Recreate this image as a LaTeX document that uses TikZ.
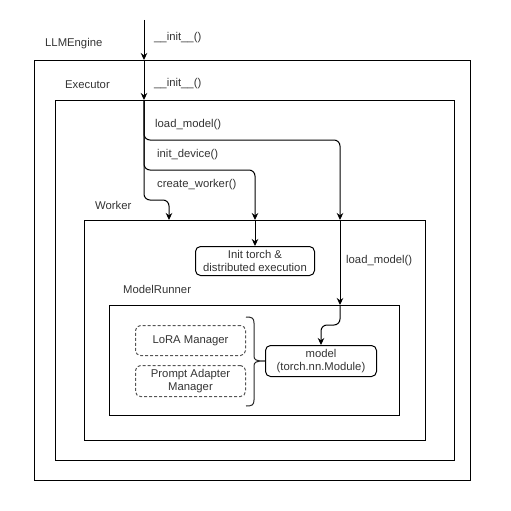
\documentclass[tikz,border=0pt]{standalone}
\usepackage{fontspec}
\setmainfont{Liberation Sans}
\usetikzlibrary{arrows.meta,calc}
\definecolor{txt}{HTML}{333333}
\definecolor{dashc}{HTML}{555555}
\tikzset{
  container/.style={draw=black, line width=1pt, anchor=north west, inner sep=0pt},
  roundbox/.style={draw=black, line width=1pt, rounded corners=5pt, anchor=north west, inner sep=0pt, align=center, text=txt, font=\fontsize{11.3}{13}\selectfont},
  dashbox/.style={draw=dashc, line width=1pt, dash pattern=on 3pt off 2pt, rounded corners=5pt, anchor=north west, inner sep=0pt, align=center, text=txt, font=\fontsize{11.3}{13}\selectfont},
  lbl/.style={anchor=west, inner sep=0pt, text=txt, font=\fontsize{11.3}{13}\selectfont},
  conn/.style={draw=black, line width=1pt, rounded corners=6pt, -{Stealth[length=7pt,width=6.5pt]}},
}
\begin{document}
\begin{tikzpicture}[x=1pt,y=-1pt]
\useasboundingbox (0,0) rectangle (511,511);
% containers
\node[container, minimum width=436pt, minimum height=420pt] (engine) at (34,60) {};
\node[container, minimum width=399pt, minimum height=360pt] (exec) at (55,100) {};
\node[container, minimum width=341pt, minimum height=220pt] (worker) at (84,220) {};
\node[container, minimum width=290pt, minimum height=110pt] (runner) at (109,305) {};
% labels
\node[lbl] (lengine) at (45,44) {LLMEngine};
\node[lbl] (lexec) at (65,85) {Executor};
\node[lbl] (lworker) at (95,205) {Worker};
\node[lbl] (lrunner) at (123,289) {ModelRunner};
% inner boxes
\node[roundbox, minimum width=119pt, minimum height=29pt] (init) at (195,246) {Init torch \&\\distributed execution};
\node[dashbox, minimum width=110pt, minimum height=30pt] (lora) at (135,325) {LoRA Manager};
\node[dashbox, minimum width=110pt, minimum height=31pt] (prompt) at (135,365) {Prompt Adapter\\Manager};
\node[roundbox, minimum width=111pt, minimum height=31pt] (model) at (265,345) {model\\(torch.nn.Module)};
% brace
\coordinate (tip) at (model.west);
\draw[line width=1pt, draw=black!85] ($(tip)+(-19,-44)$) .. controls ($(tip)+(-13,-44)$) and ($(tip)+(-11,-43)$) .. ($(tip)+(-11,-38)$)
  -- ($(tip)+(-11,-5)$) .. controls ($(tip)+(-11,-1)$) and ($(tip)+(-9,0)$) .. (tip)
  .. controls ($(tip)+(-9,0)$) and ($(tip)+(-11,1)$) .. ($(tip)+(-11,5)$)
  -- ($(tip)+(-11,39)$) .. controls ($(tip)+(-11,44)$) and ($(tip)+(-13,45)$) .. ($(tip)+(-19,45)$);
% connectors
\coordinate (start) at (144,20);
\coordinate (eTop) at (start |- engine.north);
\coordinate (xTop) at (start |- exec.north);
\draw[conn] (start) -- (eTop);
\draw[conn] (eTop) -- (xTop);
\node[lbl] (linit1) at (154,38) {\_\_init\_\_()};
\node[lbl] (linit2) at (154,84) {\_\_init\_\_()};
% load_model branch
\coordinate (wA) at (340,220);
\coordinate (rA) at (340,305);
\draw[conn] (xTop) -- (144,140) -- (340,140) -- (wA);
\draw[conn] (wA) -- (rA);
\draw[conn] (rA) -- (340,325) -- (model.north |- 0,325) -- (model.north);
\node[lbl] (lload1) at (155,125) {load\_model()};
\node[lbl] (lload2) at (346,261) {load\_model()};
% init_device branch
\coordinate (wB) at (init.north |- worker.north);
\draw[conn] (xTop) -- (144,170) -- (wB |- 0,170) -- (wB);
\draw[conn] (wB) -- (init.north);
\node[lbl] (ldev) at (157,155) {init\_device()};
% create_worker branch
\coordinate (wC) at (169,220);
\draw[conn] (xTop) -- (144,200) -- (169,200) -- (wC);
\node[lbl] (lcreate) at (157,185) {create\_worker()};
\end{tikzpicture}
\end{document}
